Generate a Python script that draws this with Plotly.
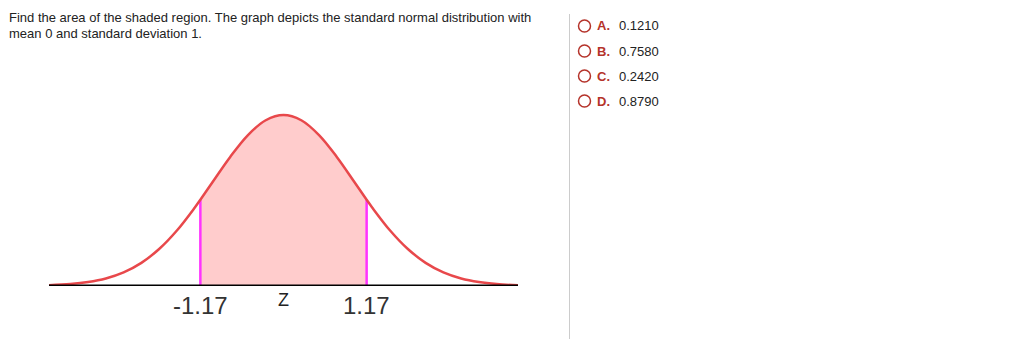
import plotly.graph_objects as go

W, H = 1021, 339

# standard normal density
z_vals = [-3.3, -3.0, -2.75, -2.5, -2.25, -2.0, -1.75, -1.5, -1.25, -1.17, -1.0, -0.75, -0.5, -0.25, 0.0,
          0.25, 0.5, 0.75, 1.0, 1.17, 1.25, 1.5, 1.75, 2.0, 2.25, 2.5, 2.75, 3.0, 3.3]
density = [0.0017, 0.0044, 0.0091, 0.0175, 0.0317, 0.0540, 0.0863, 0.1295, 0.1826, 0.2012, 0.2420, 0.3011, 0.3521, 0.3867, 0.3989,
           0.3867, 0.3521, 0.3011, 0.2420, 0.2012, 0.1826, 0.1295, 0.0863, 0.0540, 0.0317, 0.0175, 0.0091, 0.0044, 0.0017]
z_low, z_high = -1.17, 1.17
tick_labels = ["-1.17", "Z", "1.17"]
tick_pos = [-1.17, 0.0, 1.17]

question = ["Find the area of the shaded region. The graph depicts the standard normal distribution with",
            "mean 0 and standard deviation 1."]
opt_letters = ["A.", "B.", "C.", "D."]
opt_values = ["0.1210", "0.7580", "0.2420", "0.8790"]

shade_z = [z for z in z_vals if z_low <= z <= z_high]
shade_d = [d for z, d in zip(z_vals, density) if z_low <= z <= z_high]
d_low = density[z_vals.index(z_low)]
d_high = density[z_vals.index(z_high)]

fig = go.Figure()
fig.add_trace(go.Scatter(x=shade_z, y=shade_d, mode="lines", line=dict(color="rgba(0,0,0,0)", width=0, shape="spline"),
                         fill="tozeroy", fillcolor="#ffcccc", hoverinfo="skip"))
fig.add_trace(go.Scatter(x=[z_low, z_low], y=[0, d_low], mode="lines", line=dict(color="#ff33ff", width=2.5)))
fig.add_trace(go.Scatter(x=[z_high, z_high], y=[0, d_high], mode="lines", line=dict(color="#ff33ff", width=2.5)))
fig.add_trace(go.Scatter(x=z_vals, y=density, mode="lines", line=dict(color="#e8484b", width=2.5, shape="spline")))
fig.add_trace(go.Scatter(x=[z_vals[0], z_vals[-1]], y=[0, 0], mode="lines", line=dict(color="black", width=3)))


def px(x):
    return x / W


def py(y):
    return 1 - y / H


fig.update_layout(
    width=W, height=H, margin=dict(l=0, r=0, t=0, b=0),
    paper_bgcolor="white", plot_bgcolor="white", showlegend=False,
    xaxis=dict(range=[-3.3, 3.3], domain=[px(49), px(518)], visible=False, fixedrange=True),
    yaxis=dict(range=[0, 0.4339], domain=[py(286), py(100)], visible=False, fixedrange=True),
)

FONT = "Liberation Sans, Arial"
annotations = []
for i, line in enumerate(question):
    annotations.append(dict(x=px(7), y=py(17 + 16 * i), xref="paper", yref="paper", xanchor="left", yanchor="middle",
                            text=line, showarrow=False, font=dict(family=FONT, size=13, color="#222")))
for pos, lab in zip(tick_pos, tick_labels):
    if lab == "Z":
        annotations.append(dict(x=pos, y=py(300), xref="x", yref="paper", yanchor="middle", text=lab, showarrow=False,
                                font=dict(family=FONT, size=18, color="#222")))
    else:
        annotations.append(dict(x=pos, y=py(305), xref="x", yref="paper", yanchor="middle", text=lab, showarrow=False,
                                font=dict(family=FONT, size=24, color="#333")))

shapes = [dict(type="line", xref="paper", yref="paper", x0=px(569.5), x1=px(569.5), y0=py(14), y1=py(339),
               line=dict(color="#cccccc", width=1))]
for i, (let, val) in enumerate(zip(opt_letters, opt_values)):
    cy = 26 + 25 * i
    shapes.append(dict(type="circle", xref="paper", yref="paper", x0=px(578.5), x1=px(590.5), y0=py(cy - 6), y1=py(cy + 6),
                       line=dict(color="#b5332a", width=1.5)))
    annotations.append(dict(x=px(595), y=py(cy), xref="paper", yref="paper", xanchor="left", yanchor="middle",
                            text="<b>" + let + "</b>", showarrow=False,
                            font=dict(family=FONT, size=13, color="#b5332a")))
    annotations.append(dict(x=px(617), y=py(cy), xref="paper", yref="paper", xanchor="left", yanchor="middle",
                            text=val, showarrow=False,
                            font=dict(family=FONT, size=13, color="#222")))

fig.update_layout(annotations=annotations, shapes=shapes)
fig.write_html("out.html", config={"displayModeBar": False})
